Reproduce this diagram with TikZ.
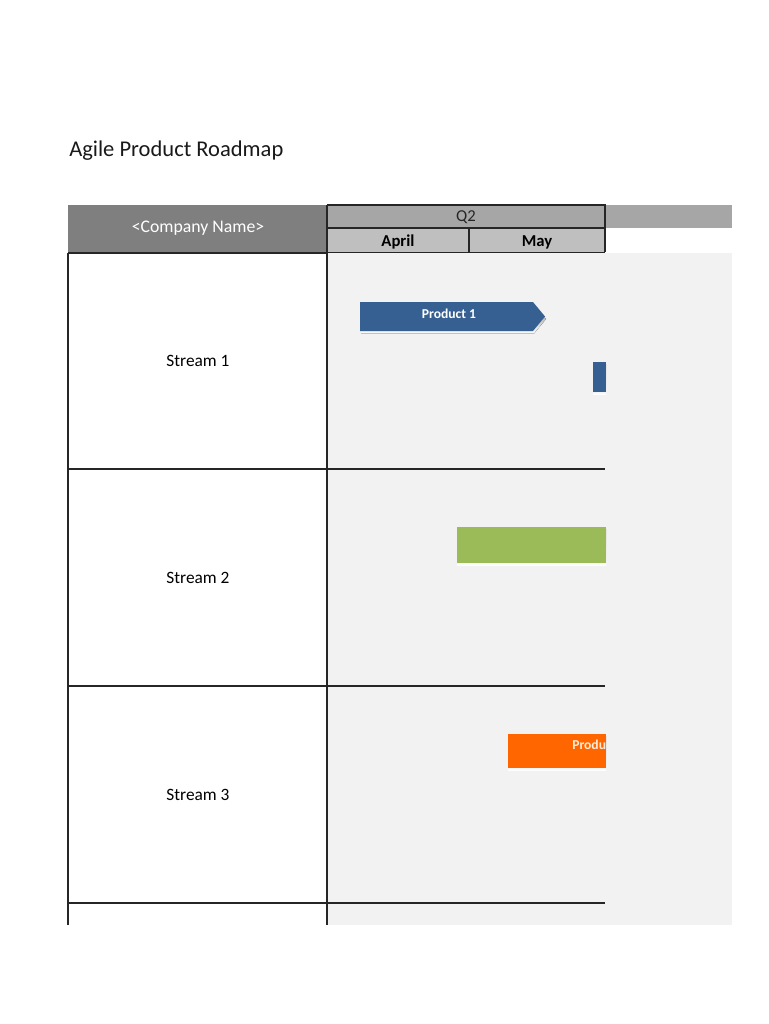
\documentclass[tikz,border=0pt]{standalone}
\usepackage{fontspec}
\setmainfont{Carlito}
\definecolor{hdrgray}{HTML}{7F7F7F}
\definecolor{q2gray}{HTML}{A6A6A6}
\definecolor{mgray}{HTML}{BFBFBF}
\definecolor{bggray}{HTML}{F2F2F2}
\definecolor{pblue}{HTML}{376092}
\definecolor{pgreen}{HTML}{9BBB59}
\definecolor{porange}{HTML}{FF6600}
\definecolor{shade}{HTML}{8C8C8C}
\definecolor{txtdark}{HTML}{262626}
\begin{document}
\begin{tikzpicture}[x=0.75pt,y=-0.75pt,
  gridline/.style={line width=0.8pt,black!85},
  lbl/.style={inner sep=0pt,font=\fontsize{13}{15}\selectfont},
  bartext/.style={inner sep=0pt,text=white,font=\fontsize{10.2}{12}\selectfont\bfseries}]
\useasboundingbox (0,0) rectangle (768,1024);
% title
\node[anchor=base west,inner sep=0pt,font=\fontsize{16.9}{20}\selectfont,text=black!90] (title) at (69,156) {Agile Product Roadmap};
% backgrounds
\fill[bggray] (328,253) rectangle (732,925);
\fill[hdrgray] (68,205) rectangle (327,252);
\fill[q2gray] (328,205) rectangle (732,228);
\fill[mgray] (328,228) rectangle (605,252);
% header borders
\draw[gridline] (327,205) -- (605,205) -- (605,252);
\draw[gridline] (327,228) -- (605,228);
\draw[gridline] (327,252.5) -- (605,252.5);
\draw[gridline] (469,228) -- (469,252);
\draw[gridline] (68,253) -- (327,253);
% columns
\draw[gridline] (68,253) -- (68,925);
\draw[gridline] (327,205) -- (327,925);
\draw[gridline] (68,469) -- (605,469);
\draw[gridline] (68,686) -- (605,686);
\draw[gridline] (68,903) -- (605,903);
% header texts
\node[lbl,text=white,font=\fontsize{13.3}{15}\selectfont] (company) at (198,228.5) {<Company Name>};
\node[lbl,text=txtdark,font=\fontsize{12.5}{15}\selectfont] (q2) at (466,217.5) {Q2};
\node[lbl,text=black,font=\fontsize{12.5}{15}\selectfont\bfseries] (april) at (398,242) {April};
\node[lbl,text=black,font=\fontsize{12.5}{15}\selectfont\bfseries] (may) at (537,242) {May};
% stream labels
\node[lbl] (s1) at (198,361) {Stream 1};
\node[lbl] (s2) at (198,578) {Stream 2};
\node[lbl] (s3) at (198,795) {Stream 3};
% product 1 arrow
\fill[shade] (361,304.5) -- (534,304.5) -- (546,319) -- (534,333.5) -- (361,333.5) -- cycle;
\fill[pblue] (360,302) -- (533,302) -- (545,316.5) -- (533,331) -- (360,331) -- cycle;
\node[bartext] (p1) at (449,313.5) {Product 1};
% small blue bar
\fill[shade] (593,364.5) rectangle (606,394.5);
\fill[pblue] (593,362) rectangle (606,392);
% green bar
\fill[shade] (457,529.5) rectangle (606,565.5);
\fill[pgreen] (457,527) rectangle (606,563);
% orange bar
\fill[shade] (508,736.5) rectangle (606,770.5);
\fill[porange] (508,734) rectangle (606,768);
\begin{scope}
\clip (508,734) rectangle (606,768);
\node[bartext,anchor=west,text=orange!15] (p3) at (572,745) {Product 3};
\end{scope}
\end{tikzpicture}
\end{document}
